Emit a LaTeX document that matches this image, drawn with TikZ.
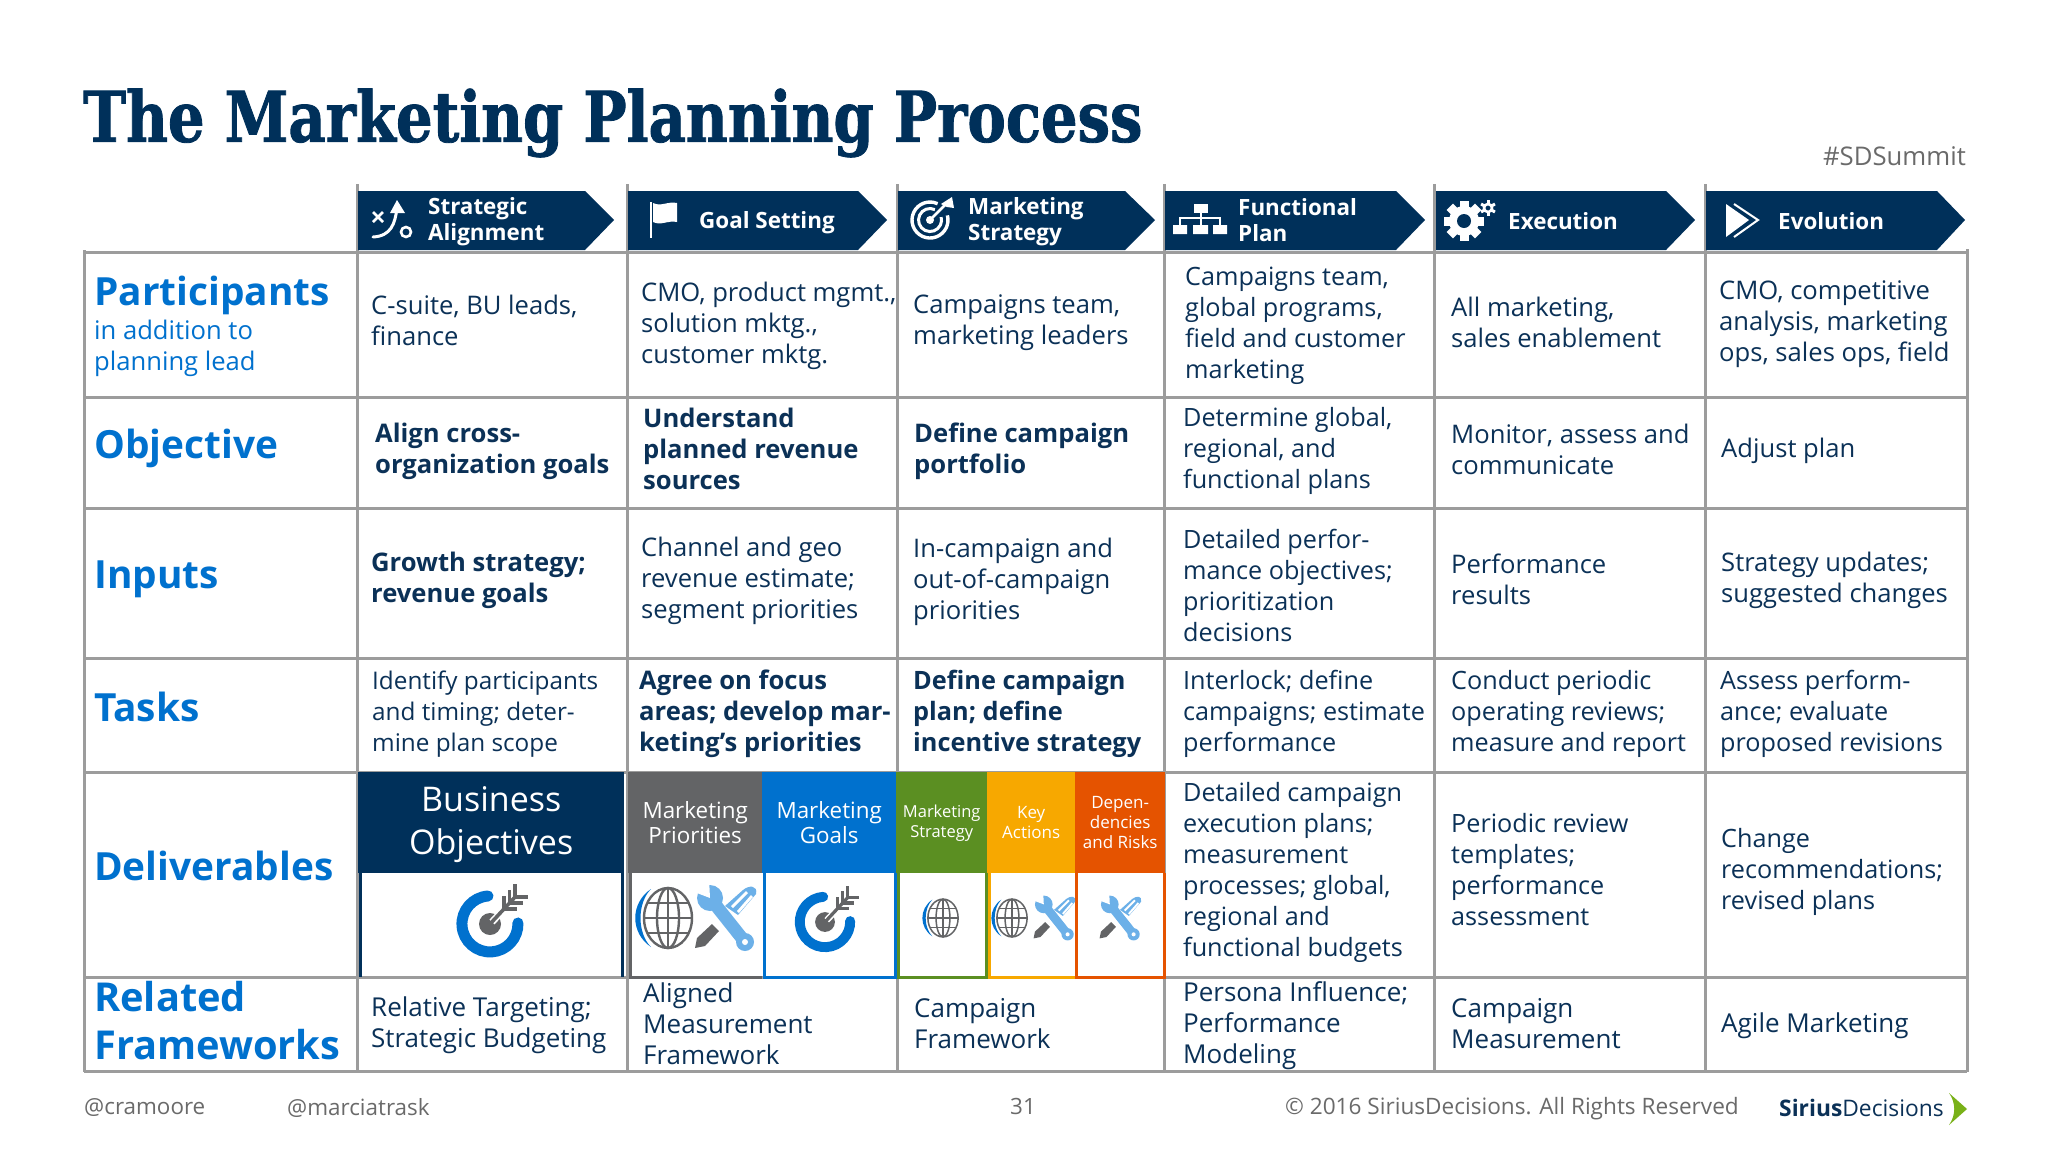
\documentclass[tikz,border=0pt]{standalone}
\usepackage{fontspec}
\setmainfont{Open Sans}
\newfontfamily\titlefont[FakeStretch=0.823,BoldFeatures={FakeBold=1.2}]{DejaVu Serif}
\usetikzlibrary{positioning}

\definecolor{navy}{HTML}{00305A}
\definecolor{inkblue}{HTML}{0B3157}
\definecolor{sdblue}{HTML}{0071CE}
\definecolor{skyblue}{HTML}{6CB0E8}
\definecolor{gridgray}{HTML}{9C9C9C}
\definecolor{boxgray}{HTML}{636466}
\definecolor{sdgreen}{HTML}{5B8F22}
\definecolor{sdorange}{HTML}{F7A800}
\definecolor{sdred}{HTML}{E55300}
\definecolor{footgray}{HTML}{6A6A6A}

\tikzset{
  cell/.style={anchor=west, align=left, inner sep=0pt, text=inkblue, font=\fontsize{25.6}{31}\selectfont},
  cellt/.style={cell, font=\fontsize{25.2}{31}\selectfont},
  cellr/.style={cell, font=\fontsize{26}{31}\selectfont},
  cellb/.style={cell, font=\fontsize{25.6}{31}\selectfont\bfseries},
  rowlabel/.style={anchor=west, align=left, inner sep=0pt, text=sdblue, font=\fontsize{38.8}{48}\selectfont\bfseries},
  headtext/.style={anchor=west, align=left, inner sep=0pt, text=white, font=\fontsize{22.4}{26}\selectfont\bfseries},
  headarrow/.style={fill=navy, draw=none},
  gridline/.style={draw=gridgray, line width=3pt},
  footer/.style={anchor=west, inner sep=0pt, text=footgray, font=\fontsize{22.4}{28}\selectfont},
  boxhead/.style={anchor=north west, inner sep=0pt, align=center, text=white, minimum height=101pt},
  pics/globe/.style={code={
    \begin{scope}[scale=#1]
      \fill[sdblue] (-17,-29) .. controls (-38,-15) and (-38,15) .. (-17,29) .. controls (-31,15) and (-31,-15) .. (-17,-29);
      \draw[boxgray, line width=#1*2.4pt] (0,0) ellipse (24 and 30);
      \draw[boxgray, line width=#1*2.4pt] (0,0) ellipse (11 and 30);
      \draw[boxgray, line width=#1*2.4pt] (0,-30) -- (0,30) (-24,0) -- (24,0) (-20,-15) -- (20,-15) (-20,15) -- (20,15);
    \end{scope}
  }},
  pics/tools/.style={code={
    \begin{scope}[scale=#1]
      % screwdriver
      \fill[boxgray] (-30,30) -- (-28,20) -- (-13,6) -- (-6,13) -- (-20,28) -- cycle;
      \fill[skyblue] (0,-12) -- (18,-28) .. controls (24,-33) and (33,-33) .. (31,-24) -- (13,-3) -- cycle;
      \fill[white] (6,-12) -- (21,-27) -- (23,-25) -- (8,-10) -- cycle (12,-7) -- (26,-23) -- (28,-21) -- (14,-5) -- cycle;
      % wrench
      \fill[skyblue] (-15,-20) circle (13);
      \fill[skyblue] (-10,-24) -- (25,20) -- (15,28) -- (-20,-16) -- cycle;
      \fill[skyblue] (20,24) circle (9);
      \fill[white] (20,24) circle (3);
      \fill[white] (-15,-20) -- (-16,-40) -- (-36,-28) -- cycle;
    \end{scope}
  }},
  pics/target/.style={code={
    \begin{scope}[scale=#1]
      \draw[sdblue, line width=#1*11pt, line cap=round] (-2,-28) arc (-94:-362:28);
      \fill[boxgray] (0,0) circle (11);
      \draw[white, line width=#1*7pt] (2,-2) -- (32,-34);
      \draw[boxgray, line width=#1*3.6pt] (0,0) -- (26,-28);
      \foreach \f in {.5,.7,.9} {
        \draw[boxgray, line width=#1*3.6pt] (\f*28,-\f*30) -- ++(13,0);
        \draw[boxgray, line width=#1*3.6pt] (\f*28,-\f*30) -- ++(0,-13);
      }
    \end{scope}
  }}
}

\begin{document}
\begin{tikzpicture}[x=1pt,y=-1pt]
  \useasboundingbox (0,0) rectangle (2048,1152);
  \fill[white] (0,0) rectangle (2048,1152);

  \node (title) [anchor=west, inner sep=0pt, text=navy, font=\fontsize{70}{80}\selectfont\titlefont\bfseries] at (83,123) {The Marketing Planning Process};
  \node (tag) [anchor=east, inner sep=0pt, text=footgray, font=\fontsize{25.7}{28}\selectfont] at (1966,156) {\#SDSummit};

  % grid
  \foreach \y in {252,397,508,658,772,977,1071}
    \draw[gridline] (84,\y) -- (1967,\y);
  \foreach \x in {357,627,897,1164,1434,1705}
    \draw[gridline] (\x,184) -- (\x,1071);
  \draw[gridline] (84,250) -- (84,1072);
  \draw[gridline] (1967,249) -- (1967,1072);

  % header arrows
  \foreach \a/\b/\c in {358/585/614,628/858/887,898/1125/1155,1165/1396/1425,1436/1666/1695,1706/1937/1965}
    \fill[headarrow] (\a,191) -- (\b,191) -- (\c,220) -- (\b,250) -- (\a,250) -- cycle;

  \node (h1) [headtext] at (428,222) {Strategic\\Alignment};
  \node (h2) [headtext] at (699,223) {Goal Setting};
  \node (h3) [headtext] at (968,222) {Marketing\\Strategy};
  \node (h4) [headtext] at (1238,220) {Functional\\Plan};
  \node (h5) [headtext] at (1508,221) {Execution};
  \node (h6) [headtext] at (1778,221) {Evolution};

  % header icons
  \draw[white, line width=2.6pt] (373,212) -- (383,222) (383,212) -- (373,222);
  \draw[white, line width=3pt, line cap=round] (373,237) .. controls (391,236) and (395,224) .. (397,208);
  \fill[white] (397,200) -- (405,213) -- (390,213) -- cycle;
  \draw[white, line width=2.6pt] (406,232) circle (5);

  \draw[white, line width=2pt] (651,202) -- (651,238);
  \fill[white] (653,203) .. controls (661,207) and (668,201) .. (677,203) -- (677,222) .. controls (668,220) and (661,226) .. (653,222) -- cycle;

  \draw[white, line width=3.4pt] (937.6,203.7) arc (-65:-375:18);
  \draw[white, line width=3pt] (934.9,209.6) arc (-65:-375:11.5);
  \fill[white] (930,220) circle (4);
  \draw[white, line width=2.6pt] (930,220) -- (945,205);
  \fill[white] (952,197) -- (954,208) -- (947,207) -- (941,204) -- cycle;

  \fill[white] (1194,204) rectangle (1208,213);
  \fill[white] (1173,225) rectangle (1187,234) (1193,225) rectangle (1208,234) (1213,225) rectangle (1227,234);
  \draw[white, line width=2pt] (1201,213) -- (1201,225) (1180,225) -- (1180,218) -- (1220,218) -- (1220,225);

  \foreach \t in {0,45,...,315}
    \fill[white, rotate around={\t:(1464,221)}] (1459.5,201) rectangle (1468.5,214);
  \fill[white] (1464,221) circle (15);
  \fill[navy] (1464,221) circle (7);
  \draw[white, line width=2.6pt] (1488,208) circle (4);
  \foreach \t in {0,60,...,300}
    \fill[white, rotate around={\t:(1488,208)}] (1486.5,200) rectangle (1489.5,204);

  \fill[white] (1726,204) -- (1749,220) -- (1726,237) -- cycle;
  \draw[white, line width=2pt] (1734,204) -- (1758,220) -- (1734,237);

  % row labels
  \node (participants) [rowlabel] at (94,295) {Participants};
  \node (addition) [cell, text=sdblue] at (94,348) {in addition to\\planning lead};
  \node (objective) [rowlabel] at (94,448) {Objective};
  \node (inputs) [rowlabel] at (94,579) {Inputs};
  \node (tasks) [rowlabel] at (94,707) {Tasks};
  \node (deliverables) [rowlabel] at (94,866) {Deliverables};
  \node (related) [rowlabel, font=\fontsize{39.8}{48}\selectfont\bfseries] at (94,1021) {Related\\Frameworks};

  % participants
  \node (p1) [cell] at (371,320) {C-suite, BU leads,\\finance};
  \node (p2) [cell] at (641,326) {CMO, product mgmt.,\\solution mktg.,\\customer mktg.};
  \node (p3) [cell] at (913,323) {Campaigns team,\\marketing leaders};
  \node (p4) [cellt] at (1185,326) {Campaigns team,\\global programs,\\field and customer\\marketing};
  \node (p5) [cell] at (1451,322) {All marketing,\\sales enablement};
  \node (p6) [cell] at (1719,324) {CMO, competitive\\analysis, marketing\\ops, sales ops, field};

  % objective
  \node (o1) [cellb] at (375,451) {Align cross-\\organization goals};
  \node (o2) [cellb] at (643,449) {Understand\\planned revenue\\sources};
  \node (o3) [cellb] at (914,451) {Define campaign\\portfolio};
  \node (o4) [cellt] at (1183,451) {Determine global,\\regional, and\\functional plans};
  \node (o5) [cell] at (1451,449) {Monitor, assess and\\communicate};
  \node (o6) [cell] at (1721,451) {Adjust plan};

  % inputs
  \node (i1) [cellb] at (371,580) {Growth strategy;\\revenue goals};
  \node (i2) [cell] at (641,581) {Channel and geo\\revenue estimate;\\segment priorities};
  \node (i3) [cell] at (913,582) {In-campaign and\\out-of-campaign\\priorities};
  \node (i4) [cellt] at (1183,585) {Detailed perfor-\\mance objectives;\\prioritization\\decisions};
  \node (i5) [cell] at (1451,579) {Performance\\results};
  \node (i6) [cell] at (1721,580) {Strategy updates;\\suggested changes};

  % tasks
  \node (t1) [cellt, font=\fontsize{24.3}{31}\selectfont] at (372,714) {Identify participants\\and timing; deter-\\mine plan scope};
  \node (t2) [cellb] at (639,714) {Agree on focus\\areas; develop mar-\\keting's priorities};
  \node (t3) [cellb, font=\fontsize{25.3}{31}\selectfont\bfseries] at (913,714) {Define campaign\\plan; define\\incentive strategy};
  \node (t4) [cellt] at (1183,714) {Interlock; define\\campaigns; estimate\\performance};
  \node (t5) [cellt] at (1451,714) {Conduct periodic\\operating reviews;\\measure and report};
  \node (t6) [cellt] at (1720,714) {Assess perform-\\ance; evaluate\\proposed revisions};

  % deliverables
  \node (bo) [boxhead, fill=navy, minimum width=266pt, font=\fontsize{34}{43}\selectfont] at (358,772) {\rule{0pt}{28pt}Business\\Objectives};
  \node (mp) [boxhead, fill=boxgray, minimum width=134pt, font=\fontsize{22.4}{25}\selectfont] at (628,772) {Marketing\\Priorities};
  \node (mg) [boxhead, fill=sdblue, minimum width=134pt, font=\fontsize{22.4}{25}\selectfont] at (762,772) {Marketing\\Goals};
  \node (ms) [boxhead, fill=sdgreen, minimum width=91pt, font=\fontsize{16.5}{20}\selectfont] at (896,772) {Marketing\\Strategy};
  \node (ka) [boxhead, fill=sdorange, minimum width=88pt, font=\fontsize{17}{20}\selectfont] at (987,772) {Key\\Actions};
  \node (dr) [boxhead, fill=sdred, minimum width=90pt, font=\fontsize{17}{20}\selectfont] at (1075,772) {Depen-\\dencies\\and Risks};

  \draw[navy, line width=3pt] (360,873) -- (360,977) (622,873) -- (622,977);
  \draw[boxgray, line width=3pt] (630,873) -- (630,977) -- (762,977);
  \draw[sdblue, line width=3pt] (764,873) -- (764,977) -- (895,977) -- (895,873);
  \draw[sdgreen, line width=3pt] (898,873) -- (898,977) -- (986,977) -- (986,873);
  \draw[sdorange, line width=3pt] (989,873) -- (989,977) -- (1075,977);
  \draw[sdred, line width=3pt] (1076,873) -- (1076,977) -- (1164,977) -- (1164,873);

  \pic at (490,924) {target=1};
  \pic at (668,918) {globe=1};
  \pic at (725,918) {tools=1};
  \pic at (825,922) {target=.9};
  \pic at (943,918) {globe=.63};
  \pic at (1012,918) {globe=.63};
  \pic at (1054,918) {tools=.68};
  \pic at (1120,918) {tools=.68};

  \node (d4) [cellt] at (1183,872) {Detailed campaign\\execution plans;\\measurement\\processes; global,\\regional and\\functional budgets};
  \node (d5) [cellt] at (1451,870) {Periodic review\\templates;\\performance\\assessment};
  \node (d6) [cellt] at (1721,872) {Change\\recommendations;\\revised plans};

  % related frameworks
  \node (r1) [cellr] at (371,1025) {Relative Targeting;\\Strategic Budgeting};
  \node (r2) [cellr] at (643,1024) {Aligned\\Measurement\\Framework};
  \node (r3) [cellr] at (914,1024) {Campaign\\Framework};
  \node (r4) [cellr] at (1183,1026) {Persona Influence;\\Performance\\Modeling};
  \node (r5) [cellr] at (1451,1024) {Campaign\\Measurement};
  \node (r6) [cellr] at (1721,1026) {Agile Marketing};

  % footer
  \node (f1) [footer] at (84,1108) {@cramoore};
  \node (f2) [footer] at (287,1108) {@marciatrask};
  \node (f3) [footer, anchor=center] at (1023,1106) {31};
  \node (f4) [footer, font=\fontsize{22.6}{28}\selectfont] at (1285,1109) {© 2016 SiriusDecisions. All Rights Reserved};
  \node (f5) [footer, text=inkblue, font=\fontsize{22.8}{28}\selectfont] at (1779,1108) {\textbf{Sirius}Decisions};
  \fill[sdgreen!70!lime] (1949,1093) -- (1967,1109) -- (1949,1125) .. controls (1956,1115) and (1956,1103) .. (1949,1093);
\end{tikzpicture}
\end{document}
